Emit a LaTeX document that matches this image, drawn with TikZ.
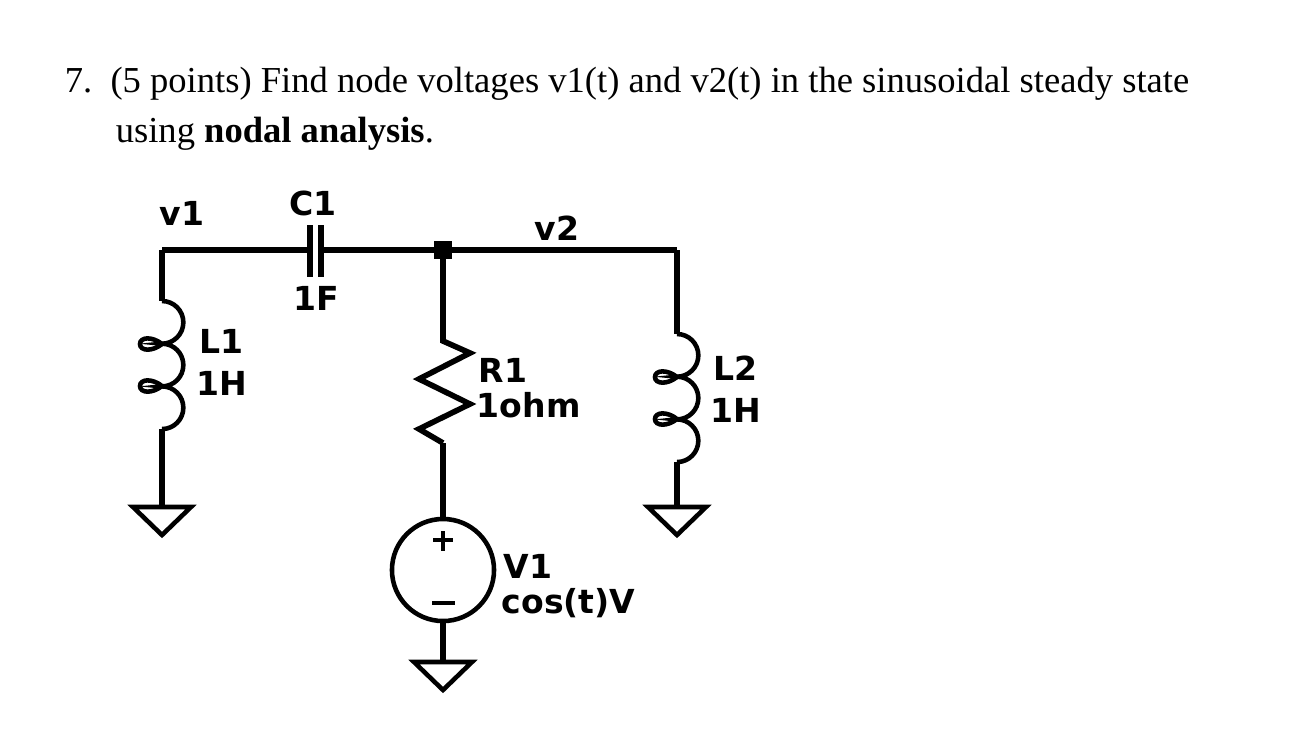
\documentclass[tikz,border=0pt]{standalone}
\usepackage{fontspec}
\setmainfont{Liberation Serif}
\newfontfamily\lab{DejaVu Sans}
\begin{document}
\begin{tikzpicture}[x=0.01cm,y=-0.01cm,line width=1.6pt,
  lbl/.style={font=\lab\bfseries\fontsize{9.4}{11}\selectfont,inner sep=0pt},
  ttl/.style={font=\fontsize{10.4}{12}\selectfont,inner sep=0pt,anchor=base west},
  gnd/.pic={\draw[line width=1.3pt] (-29,0) -- (29,0) -- (0,28) -- cycle;},
  loop/.style={line width=1.3pt}]
\useasboundingbox (0,0) rectangle (1308,744);
% title
\node[ttl] (t1) at (62,92) {7.\ \ (5 points) Find node voltages v1(t) and v2(t) in the sinusoidal steady state};
\node[ttl] (t2) at (113,142) {using \textbf{nodal analysis}.};
% nodes
\coordinate (a) at (162,250);
\coordinate (ca) at (310,250);
\coordinate (cb) at (321,250);
\coordinate (j) at (443,250);
\coordinate (b) at (677,250);
% top wire
\draw (a) -- (ca) (cb) -- (j) -- (b);
\draw (ca) ++(0,-25) -- ++(0,52);
\draw (cb) ++(0,-25) -- ++(0,52);
\fill (j) ++(-9,-9) rectangle ++(18,18);
% L1
\coordinate (l1t) at (162,301);
\coordinate (l1b) at (162,429);
\coordinate (g1) at (162,507);
\draw (a) -- (l1t);
\draw[line width=1.3pt] (l1t) arc[start angle=90,end angle=-90,radius=0.2133cm] arc[start angle=90,end angle=-90,radius=0.2133cm] arc[start angle=90,end angle=-90,radius=0.2133cm];
\draw[loop] (162,344) .. controls (152,336) and (140,337) .. (140,344) .. controls (140,351) and (152,352) .. (162,344);
\draw[loop] (162,386) .. controls (152,378) and (140,379) .. (140,386) .. controls (140,393) and (152,394) .. (162,386);
\draw (l1b) -- (g1);
\pic at (g1) {gnd};
% L2
\coordinate (l2t) at (677,334);
\coordinate (l2b) at (677,462);
\coordinate (g2) at (677,507);
\draw (b) -- (l2t);
\draw[line width=1.3pt] (l2t) arc[start angle=90,end angle=-90,radius=0.2133cm] arc[start angle=90,end angle=-90,radius=0.2133cm] arc[start angle=90,end angle=-90,radius=0.2133cm];
\draw[loop] (677,377) .. controls (667,369) and (655,370) .. (655,377) .. controls (655,384) and (667,385) .. (677,377);
\draw[loop] (677,419) .. controls (667,411) and (655,412) .. (655,419) .. controls (655,426) and (667,427) .. (677,419);
\draw (l2b) -- (g2);
\pic at (g2) {gnd};
% R1
\coordinate (rt) at (443,341);
\coordinate (rb) at (443,443);
\draw (j) -- (rt) -- (470,353) -- (419,379) -- (470,404) -- (419,429) -- (rb);
% V1
\node[circle,draw,minimum size=1.02cm,inner sep=0pt,line width=1.3pt] (v) at (443,570) {};
\draw (rb) -- (v.north);
\draw[line width=1.3pt] (443,531) -- (443,551) (433,540) -- (453,540);
\draw[line width=1.3pt] (432,603) -- (455,603);
\coordinate (g3) at (443,662);
\draw (v.south) -- (g3);
\pic at (g3) {gnd};
% labels
\node[lbl] (lv1) at (182,213) {v1};
\node[lbl] (lc1) at (313,203) {C1};
\node[lbl] (lv2) at (557,228) {v2};
\node[lbl] (lf) at (316,298) {1F};
\node[lbl,anchor=west] (ll1) at (197,341) {L1};
\node[lbl,anchor=west] (lh1) at (194,383) {1H};
\node[lbl,anchor=west] (lr1) at (476,370) {R1};
\node[lbl,anchor=west] (lr2) at (474,405) {1ohm};
\node[lbl,anchor=west] (ll2) at (711,368) {L2};
\node[lbl,anchor=west] (lh2) at (708,410) {1H};
\node[lbl,anchor=west] (lV) at (501,566) {V1};
\node[lbl,anchor=west] (lc) at (499,603) {cos(t)V};
\end{tikzpicture}
\end{document}
